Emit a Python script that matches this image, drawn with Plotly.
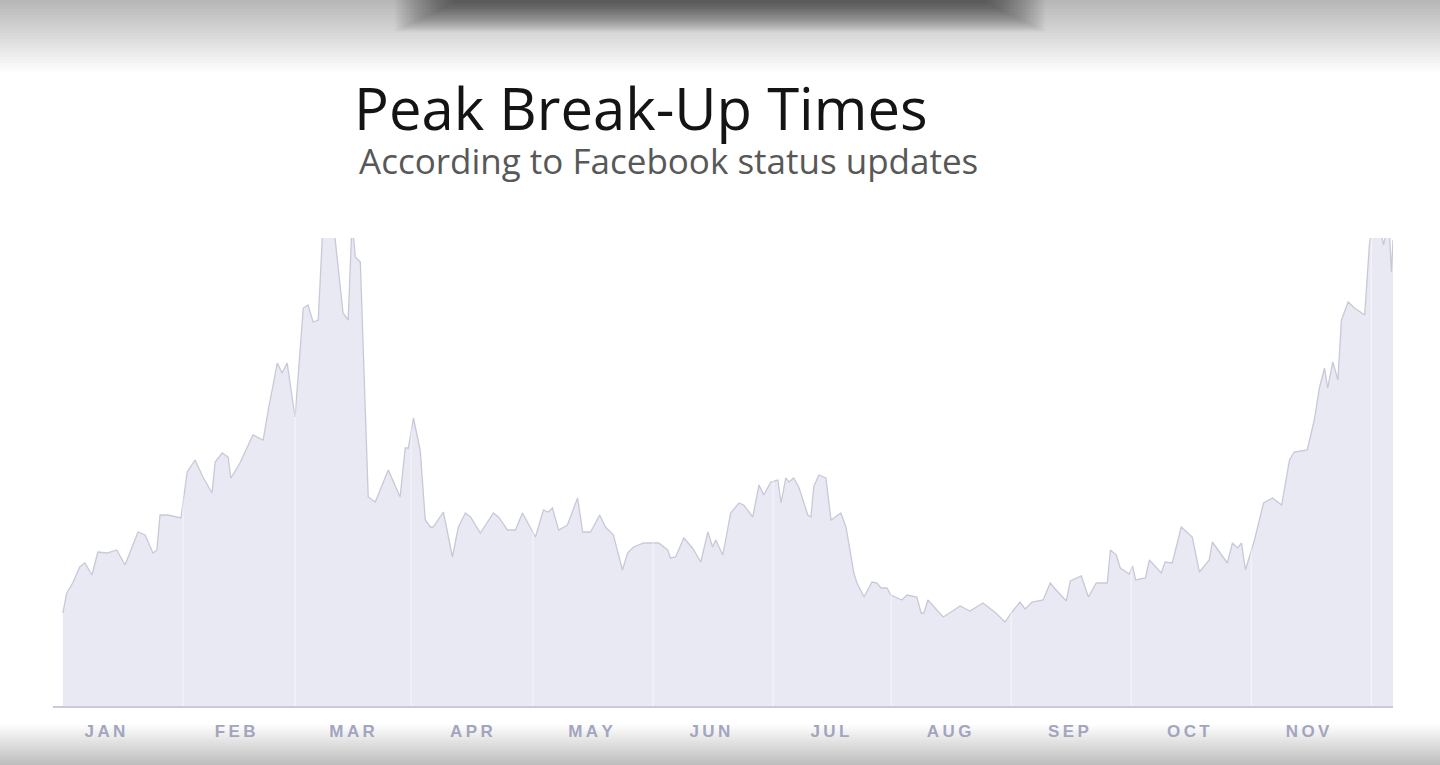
import plotly.graph_objects as go

# ---- data (day of year from Jan 1, relative break-up index) ----
days = [0, 1.0, 2.5, 4.3, 5.6, 7.4, 8.9, 11.2, 13.7, 15.8, 19.1, 20.9, 22.9, 23.9, 24.7, 26.7,
        30.0, 31.6, 33.6, 35.6, 37.9, 38.7, 40.5, 42.0, 42.7, 45.0, 48.3, 50.9, 52.2, 54.5, 55.7,
        57.0, 59.0, 61.1, 62.3, 63.6, 64.9, 66.2, 67.4, 68.7, 71.2, 72.5, 73.5, 74.3, 75.6, 77.6,
        79.4, 82.7, 85.7, 87.0, 87.8, 89.1, 90.8, 92.1, 93.4, 94.1, 96.7, 99.0, 100.5, 102.3,
        103.6, 106.1, 109.4, 110.7, 113.0, 115.0, 116.8, 120.1, 122.1, 123.4, 124.4, 126.0,
        128.2, 130.8, 132.1, 134.1, 136.4, 137.9, 139.9, 142.2, 143.5, 145.0, 147.6, 151.4,
        153.7, 154.4, 155.7, 157.8, 160.0, 162.1, 163.9, 165.1, 165.9, 167.7, 169.7, 171.8,
        173.0, 175.3, 176.9, 178.1, 179.9, 181.7, 182.5, 183.7, 184.5, 185.7, 187.0, 189.3,
        190.1, 190.8, 192.1, 193.9, 195.2, 197.7, 199.0, 201.0, 201.8, 203.6, 205.6, 206.9,
        207.9, 209.4, 210.4, 213.2, 214.5, 217.0, 218.1, 218.8, 219.8, 223.7, 225.7, 228.0,
        230.5, 233.8, 237.1, 239.4, 241.0, 243.2, 244.5, 246.3, 249.1, 250.9, 252.4, 255.0,
        256.0, 258.8, 260.6, 262.6, 265.4, 266.2, 267.7, 268.7, 271.0, 271.8, 272.6, 275.1,
        276.1, 279.1, 280.1, 281.9, 284.2, 287.0, 288.8, 291.3, 292.1, 295.9, 297.2, 298.5,
        299.5, 300.5, 302.8, 305.1, 307.4, 309.7, 311.7, 312.9, 316.2, 318.0, 319.3, 320.6,
        321.4, 322.7, 324.0, 324.9, 326.6, 328.2, 330.8, 332.0, 333.0, 334.3, 335.6, 336.9,
        337.6, 338.0]

breakups = [93, 113, 123, 139, 143, 131, 154, 153, 156, 141, 174, 171, 153, 156, 191, 191,
            188, 234, 246, 229, 213, 244, 253, 249, 228, 243, 271, 266, 296, 343, 333,
            343, 289, 398, 401, 384, 386, 490, 500, 485, 393, 386, 485, 449, 444, 209,
            204, 236, 209, 258, 258, 288, 256, 186, 179, 179, 194, 149, 179, 193,
            189, 173, 193, 189, 176, 176, 193, 169, 196, 194, 198, 176,
            181, 208, 174, 174, 191, 179, 171, 136, 153, 159, 163, 163,
            156, 148, 149, 168, 158, 144, 174, 159, 166, 151, 193, 203,
            201, 189, 221, 211, 224, 226, 203, 228, 224, 228, 219, 191,
            189, 219, 231, 228, 186, 193, 179, 133, 123, 109, 124, 123,
            118, 118, 111, 106, 111, 109, 93, 93, 106, 89, 94, 100,
            95, 103, 93, 84, 93, 104, 97, 104, 106, 123, 116, 105,
            125, 130, 109, 123, 123, 156, 151, 138, 132, 140, 126, 128,
            146, 133, 144, 143, 179, 169, 134, 146, 164, 143, 163, 158,
            163, 136, 166, 203, 208, 201, 246, 254, 256, 286, 318, 338,
            318, 344, 326, 386, 404, 398, 391, 461, 490, 485, 461, 488,
            434, 466]

month_labels = ["JAN", "FEB", "MAR", "APR", "MAY", "JUN", "JUL", "AUG", "SEP", "OCT", "NOV"]
month_label_days = [10.7, 43.8, 73.5, 103.8, 134.1, 164.4, 194.9, 225.2, 255.5, 286.0, 316.3]
month_start_days = [30.5, 59.0, 88.5, 119.5, 150.0, 180.5, 210.5, 241.0, 271.5, 302.0, 332.5]

title_text = "Peak Break-Up Times"
subtitle_text = "According to Facebook status updates"

# ---- geometry helpers (pixel -> paper) ----
W, H = 1440, 765
L, R, T, B = 53, 47, 238, 59
PW, PH = W - L - R, H - T - B


def px(x):
    return (x - L) / PW


def py(y):
    return (H - B - y) / PH


fig = go.Figure()
fig.add_trace(go.Scatter(
    x=days, y=breakups, mode="lines", fill="tozeroy",
    fillcolor="#e9e9f4", line=dict(color="#c8c9d8", width=1.3),
    hoverinfo="skip", showlegend=False,
))

shapes = []
# month divider lines across the filled area
for d in month_start_days:
    shapes.append(dict(type="line", xref="x", yref="y", x0=d, x1=d, y0=0, y1=470,
                       line=dict(color="rgba(255,255,255,0.4)", width=1.5), layer="above"))

# top grey gradient (video frame edge)
N = 24
for i in range(N):
    ybot = 72 * (1 - i / N)
    shapes.append(dict(type="rect", xref="paper", yref="paper", x0=px(0), x1=px(W),
                       y0=py(ybot), y1=py(0), fillcolor="rgba(0,0,0,0.0125)",
                       line=dict(width=0), layer="below"))
# dark blurred bar at the top centre
M = 30
for i in range(M):
    shapes.append(dict(type="rect", xref="paper", yref="paper",
                       x0=px(395 + i * 2.0), x1=px(1045 - i * 2.0),
                       y0=py(32 - i * 1.0), y1=py(0), fillcolor="rgba(40,40,40,0.028)",
                       line=dict(width=0), layer="below"))
# bottom grey gradient
N2 = 16
for i in range(N2):
    ytop = 725 + 40 * i / N2
    shapes.append(dict(type="rect", xref="paper", yref="paper", x0=px(0), x1=px(W),
                       y0=py(H), y1=py(ytop), fillcolor="rgba(0,0,0,0.015)",
                       line=dict(width=0), layer="below"))

annotations = [
    dict(text=title_text, xref="paper", yref="paper", x=px(352), y=py(107),
         xanchor="left", yanchor="middle", showarrow=False,
         font=dict(family="Open Sans", size=58, color="#141414")),
    dict(text=subtitle_text, xref="paper", yref="paper", x=px(357), y=py(161),
         xanchor="left", yanchor="middle", showarrow=False,
         font=dict(family="Open Sans", size=35, color="#585858")),
]

tick_text = ["\u2009".join(list(m)) for m in month_labels]

fig.update_layout(
    width=W, height=H,
    margin=dict(l=L, r=R, t=T, b=B, pad=0),
    paper_bgcolor="white", plot_bgcolor="rgba(0,0,0,0)",
    shapes=shapes, annotations=annotations,
    xaxis=dict(range=[-2.5, 338], showgrid=False, zeroline=False,
               showline=True, linecolor="#c9cadb", linewidth=2,
               tickmode="array", tickvals=month_label_days, ticktext=tick_text,
               ticks="outside", ticklen=9, tickcolor="rgba(0,0,0,0)",
               tickfont=dict(family="Liberation Sans", size=17, color="#a3a5c0", weight="bold"),
               fixedrange=True),
    yaxis=dict(range=[0, 468], visible=False, fixedrange=True),
    showlegend=False,
)

fig.write_html("out.html", config={"displayModeBar": False},
               post_script="document.body.style.margin='0';document.body.style.overflow='hidden';")
